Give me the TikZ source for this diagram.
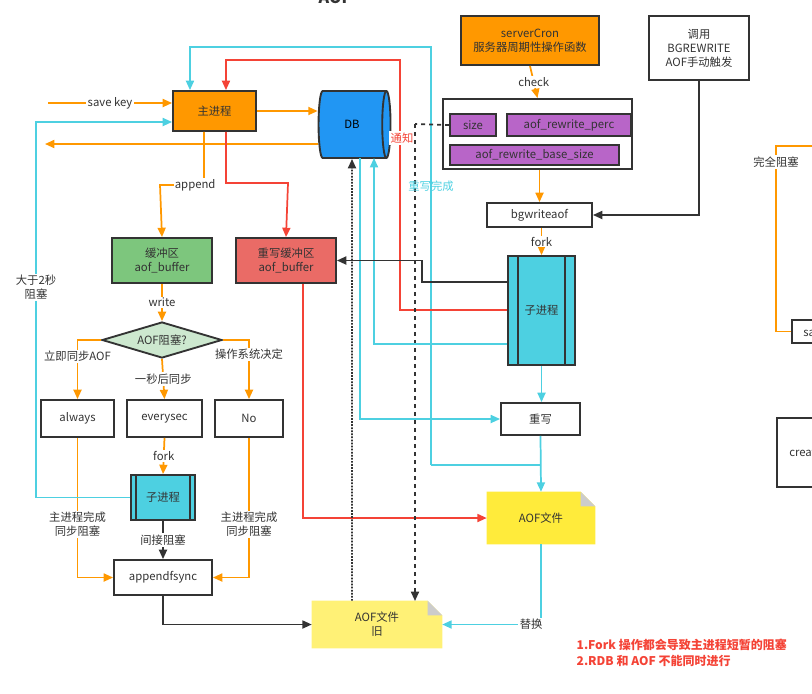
\documentclass[tikz,border=0pt]{standalone}
\usepackage{fontspec}
\setmainfont{Noto Sans CJK SC}
\usetikzlibrary{arrows.meta,shapes.geometric}
\definecolor{cor}{HTML}{FF9800}
\definecolor{ccy}{HTML}{4DD0E1}
\definecolor{crd}{HTML}{F44336}
\definecolor{cdk}{HTML}{333333}
\definecolor{cdb}{HTML}{2196F3}
\definecolor{cgr}{HTML}{7DC67D}
\definecolor{cpk}{HTML}{EA6B66}
\definecolor{cdi}{HTML}{CDE8CF}
\definecolor{cpu}{HTML}{B865C8}
\definecolor{cy1}{HTML}{FFEB3B}
\definecolor{cy2}{HTML}{FFF176}
\begin{document}
\begin{tikzpicture}[x=0.75pt,y=-0.75pt,font=\fontsize{8.5}{10.5}\selectfont,
 box/.style={draw=cdk,line width=1.4pt,align=center,inner sep=1pt,text=cdk},
 ar/.style={line width=1.3pt,-{Triangle[length=7pt,width=6pt]}},
 ln/.style={line width=1.3pt},
 lb/.style={fill=white,inner sep=1pt,text=cdk},
 sub/.style={box,fill=ccy}]
\useasboundingbox (0,0) rectangle (812,693);
\node[font=\bfseries\large,text=cdk] (title) at (335,-2) {AOF};
% nodes
\node[box,fill=cor,minimum width=62.25pt,minimum height=30pt] (main) at (214.5,111) {主进程};
\node[draw=cdk,line width=1.4pt,fill=cdb,shape=cylinder,aspect=1,minimum width=50.25pt,minimum height=54pt,inner sep=0pt] (db) at (352,124.5) {DB};
\node[box,fill=cgr,minimum width=75pt,minimum height=33.75pt] (buf) at (162,260.5) {缓冲区\\aof\_buffer};
\node[box,fill=cpk,minimum width=75pt,minimum height=33.75pt] (rbuf) at (286,260.5) {重写缓冲区\\aof\_buffer};
\node[draw=cdk,line width=1.4pt,fill=cdi,shape=diamond,aspect=3.3,minimum width=90pt,minimum height=27pt,inner sep=0pt,text=cdk] (dia) at (162,340) {AOF阻塞?};
\node[box,minimum width=54.75pt,minimum height=27.75pt] (always) at (77.5,418.5) {always};
\node[box,minimum width=56.25pt,minimum height=27.75pt] (every) at (164.5,418.5) {everysec};
\node[box,minimum width=51pt,minimum height=27.75pt] (no) at (249,418.5) {No};
\node[sub,minimum width=48pt,minimum height=33.75pt] (sub1) at (163,497.5) {子进程};
\draw[cdk,line width=1.4pt] ([xshift=4.5pt]sub1.north west)--([xshift=4.5pt]sub1.south west) ([xshift=-4.5pt]sub1.north east)--([xshift=-4.5pt]sub1.south east);
\node[box,minimum width=73.5pt,minimum height=26.25pt] (afs) at (163,577.5) {appendfsync};
\node[minimum width=97.5pt,minimum height=35.25pt,align=center,inner sep=0pt] (old) at (377,624.5) {};
\fill[cy2] (old.north west)--([xshift=-11pt]old.north east)--([yshift=-11pt]old.north east)--(old.south east)--(old.south west)--cycle;
\fill[gray!40] ([xshift=-11pt]old.north east)--([yshift=-11pt]old.north east)--([xshift=-11pt,yshift=-11pt]old.north east)--cycle;
\node[text=cdk,align=center] at (old) {AOF文件\\旧};
\node[box,fill=cor,minimum width=103.5pt,minimum height=36.75pt] (cron) at (530,40.5) {serverCron\\服务器周期性操作函数};
\node[box,minimum width=141.75pt,minimum height=52.5pt] (cont) at (537.5,134) {};
\node[box,fill=cpu,minimum width=34.5pt,minimum height=16.5pt] (size) at (473,125) {size};
\node[box,fill=cpu,minimum width=93pt,minimum height=16.5pt] (perc) at (569,125) {aof\_rewrite\_perc};
\node[box,fill=cpu,minimum width=126.75pt,minimum height=15pt] (base) at (534.5,155) {aof\_rewrite\_base\_size};
\node[box,minimum width=78.75pt,minimum height=18pt] (bgw) at (539.5,215) {bgwriteaof};
\node[box,minimum width=75pt,minimum height=48pt] (call) at (699,48) {调用\\BGREWRITE\\AOF手动触发};
\node[sub,minimum width=50.25pt,minimum height=81.75pt] (sub2) at (541.5,310.5) {子进程};
\draw[cdk,line width=1.4pt] ([xshift=8pt]sub2.north west)--([xshift=8pt]sub2.south west) ([xshift=-8pt]sub2.north east)--([xshift=-8pt]sub2.south east);
\node[box,minimum width=59.25pt,minimum height=24pt] (rw) at (540.5,419) {重写};
\node[minimum width=81pt,minimum height=39pt,inner sep=0pt] (aof) at (541,518) {};
\fill[cy1] (aof.north west)--([xshift=-11pt]aof.north east)--([yshift=-11pt]aof.north east)--(aof.south east)--(aof.south west)--cycle;
\fill[gray!40] ([xshift=-11pt]aof.north east)--([yshift=-11pt]aof.north east)--([xshift=-11pt,yshift=-11pt]aof.north east)--cycle;
\node[text=cdk] at (aof) {AOF文件};
% right cut-off parts
\node[box,minimum width=30pt,minimum height=17pt,anchor=west] (sv) at (791,331.5) {};
\node[anchor=west,text=cdk,inner sep=0pt] at (803,333) {save};
\node[box,minimum width=60pt,minimum height=52pt,anchor=west] (crea) at (776,452.5) {};
\node[anchor=west,text=cdk,inner sep=0pt] at (789,453) {create};
\draw[cor,ln] (812,146) -- (776,146) -- (776,331.5) -- (sv.west);
\node[lb] at (776,162) {完全阻塞};
% connectors
\coordinate (sk) at (48,103);
\draw[cor,ar] (sk) -- node[lb]{save key} (sk -| main.west);
\draw[cor,ar] (main.east |- 0,111) -- (db.west |- 0,111);
\coordinate (lft) at (45,144);
\draw[cor,ar] (db.west |- lft) -- (lft);
\draw[cor,ar] ([xshift=-7.9pt]main.south) |- (160,185) node[lb,pos=0.6]{append} -- (buf.north);
\draw[crd,ar] ([xshift=8.6pt]main.south) |- (288,183) -- (rbuf.north);
\draw[cor,ar] (buf.south) -- node[lb]{write} (dia.north);
\draw[cor,ar] (dia.west) -| node[lb,pos=0.64]{立即同步AOF} (always.north);
\draw[cor,ar] (dia.south) -- node[lb]{一秒后同步} (every.north);
\draw[cor,ar] (dia.east) -| node[lb,pos=0.62]{操作系统决定} (no.north);
\draw[cor,ar] (every.south) -- node[lb]{fork} (sub1.north);
\draw[cor,ar] (always.south) |- node[lb,pos=0.31,align=center]{主进程完成\\同步阻塞} (afs.west);
\draw[cor,ar] (no.south) |- node[lb,pos=0.31,align=center]{主进程完成\\同步阻塞} (afs.east);
\draw[cdk,ar] (sub1.south) -- node[lb]{间接阻塞} (afs.north);
\draw[cdk,ar] (afs.south) |- (old.west);
\draw[ccy,ar] (sub1.west) -| (36,122) node[lb,pos=0.78,align=center]{大于2秒\\阻塞} -- (main.west |- 0,122);
\draw[ccy,ar] (431,465) -- (431,47) -| ([xshift=-18.4pt]main.north);
\draw[ccy,ln] (431,465) -- (541,465);
\draw[crd,ar] (sub2.west |- 0,310) -- (400,310) -- (400,60) -| ([xshift=8.6pt]main.north);
\node[text=crd,inner sep=1pt,fill=white] at (402,138) {通知};
\draw[crd,ar] ([xshift=13pt]rbuf.south) |- (aof.west);
\draw[cdk,densely dotted,ar] ([xshift=-18.75pt]old.north) -- (db.south);
\draw[cdk,dashed,ln] (size.west) -- (415,124);
\draw[cdk,dashed,ar] (415,124) -- (415,601);
\draw[ccy,ar] (sub2.west |- 0,344) -| (374,158);
\draw[ccy,ar] (360,158) |- (rw.west);
\node[text=ccy] at (431,186) {重写完成};
\draw[cor,ar] (cron.south) -- node[lb]{check} (cont.north);
\draw[cor,ar] (cont.south -| bgw.north) -- (bgw.north);
\draw[cdk,ar] (call.south) |- (bgw.east);
\draw[cor,ar] (bgw.south -| sub2.north) -- node[lb]{fork} (sub2.north);
\draw[cdk,ar] (sub2.west |- 0,282) -- (422,282) |- (rbuf.east);
\draw[ccy,ar] (sub2.south) -- (rw.north -| sub2.south);
\draw[ccy,ar] (rw.south) -- (aof.north);
\draw[ccy,ar] (aof.south) |- node[lb,pos=0.55]{替换} (old.east);
\node[text=crd,font=\fontsize{9}{12}\selectfont\bfseries,align=left,anchor=north west] (note) at (572,634) {1.Fork 操作都会导致主进程短暂的阻塞\\2.RDB 和 AOF 不能同时进行};
\end{tikzpicture}
\end{document}
